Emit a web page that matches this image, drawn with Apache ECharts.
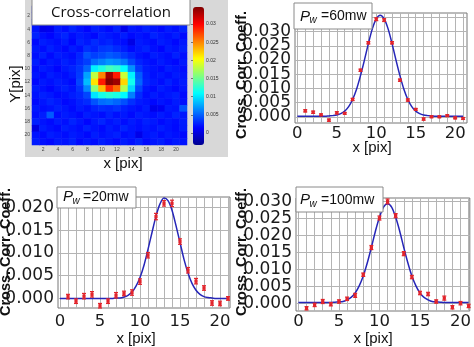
<!DOCTYPE html>
<html><head><meta charset="utf-8">
<script src="https://cdn.jsdelivr.net/npm/echarts@6/dist/echarts.min.js"></script>
<style>html,body{margin:0;padding:0;background:#fff}#c{width:474px;height:347px}</style>
</head><body><div id="c"></div>
<script>
// ---------- data ----------
const heatX = ['1','2','3','4','5','6','7','8','9','10','11','12','13','14','15','16','17','18','19','20','21'];
const heatY = ['1','2','3','4','5','6','7','8','9','10','11','12','13','14','15','16','17','18','19','20','21'];
const heatValues = [
 [0.0020,0.0025,0.0018,0.0030,0.0022,0.0015,0.0028,0.0020,0.0025,0.0019,0.0027,0.0021,0.0016,0.0024,0.0029,0.0020,0.0018,0.0026,0.0022,0.0019,0.0024],
 [0.0024,0.0018,0.0027,0.0021,0.0016,0.0029,0.0022,0.0025,0.0019,0.0026,0.0020,0.0023,0.0028,0.0017,0.0022,0.0027,0.0021,0.0019,0.0025,0.0023,0.0018],
 [0.0019,0.0028,0.0021,0.0015,0.0026,0.0022,0.0018,0.0027,0.0023,0.0020,0.0025,0.0016,0.0022,0.0029,0.0019,0.0024,0.0020,0.0027,0.0017,0.0024,0.0021],
 [0.0022,0.0005,0.0008,0.0024,0.0019,0.0027,0.0021,0.0016,0.0025,0.0022,0.0018,0.0026,0.0006,0.0023,0.0020,0.0026,0.0022,0.0018,0.0024,0.0020,0.0027],
 [0.0027,0.0020,0.0016,0.0023,0.0028,0.0019,0.0024,0.0021,0.0017,0.0026,0.0023,0.0020,0.0025,0.0018,0.0022,0.0019,0.0027,0.0023,0.0020,0.0025,0.0018],
 [0.0018,0.0025,0.0022,0.0019,0.0024,0.0016,0.0027,0.0023,0.0030,0.0025,0.0028,0.0022,0.0019,0.0004,0.0024,0.0021,0.0018,0.0025,0.0022,0.0017,0.0023],
 [0.0023,0.0019,0.0026,0.0021,0.0017,0.0024,0.0020,0.0032,0.0027,0.0034,0.0036,0.0030,0.0025,0.0018,0.0023,0.0027,0.0020,0.0016,0.0024,0.0021,0.0026],
 [0.0020,0.0026,0.0018,0.0025,0.0022,0.0019,0.0028,0.0045,0.0038,0.0042,0.0048,0.0044,0.0036,0.0029,0.0021,0.0018,0.0025,0.0022,0.0019,0.0026,0.0020],
 [0.0025,0.0017,0.0023,0.0020,0.0026,0.0022,0.0030,0.0037,0.0055,0.0062,0.0070,0.0066,0.0058,0.0040,0.0027,0.0022,0.0019,0.0024,0.0020,0.0017,0.0023],
 [0.0019,0.0024,0.0021,0.0016,0.0023,0.0027,0.0034,0.0052,0.0105,0.0120,0.0135,0.0128,0.0110,0.0068,0.0035,0.0024,0.0021,0.0018,0.0025,0.0022,0.0019],
 [0.0022,0.0018,0.0025,0.0021,0.0019,0.0024,0.0036,0.0075,0.0180,0.0250,0.0335,0.0290,0.0185,0.0105,0.0048,0.0026,0.0020,0.0023,0.0019,0.0024,0.0021],
 [0.0017,0.0023,0.0020,0.0025,0.0022,0.0018,0.0040,0.0085,0.0215,0.0290,0.0345,0.0335,0.0220,0.0115,0.0052,0.0028,0.0023,0.0019,0.0026,0.0020,0.0024],
 [0.0024,0.0020,0.0016,0.0022,0.0026,0.0021,0.0033,0.0065,0.0160,0.0230,0.0285,0.0260,0.0175,0.0095,0.0040,0.0022,0.0018,0.0025,0.0021,0.0017,0.0022],
 [0.0021,0.0026,0.0023,0.0018,0.0020,0.0025,0.0029,0.0040,0.0100,0.0118,0.0125,0.0120,0.0108,0.0062,0.0030,0.0019,0.0024,0.0020,0.0023,0.0026,0.0018],
 [0.0018,0.0022,0.0027,0.0023,0.0017,0.0020,0.0026,0.0030,0.0045,0.0055,0.0058,0.0052,0.0044,0.0032,0.0024,0.0021,0.0017,0.0022,0.0019,0.0024,0.0020],
 [0.0023,0.0019,0.0021,0.0026,0.0022,0.0018,0.0024,0.0020,0.0027,0.0031,0.0029,0.0033,0.0026,0.0022,0.0019,0.0024,0.0006,0.0010,0.0023,0.0021,0.0045],
 [0.0020,0.0025,0.0048,0.0019,0.0024,0.0021,0.0017,0.0025,0.0022,0.0019,0.0026,0.0020,0.0023,0.0018,0.0025,0.0022,0.0019,0.0024,0.0020,0.0027,0.0023],
 [0.0026,0.0021,0.0018,0.0024,0.0020,0.0027,0.0022,0.0016,0.0023,0.0028,0.0021,0.0025,0.0019,0.0024,0.0020,0.0026,0.0023,0.0018,0.0022,0.0019,0.0025],
 [0.0002,0.0024,0.0020,0.0017,0.0025,0.0022,0.0019,0.0026,0.0021,0.0018,0.0024,0.0020,0.0027,0.0022,0.0019,0.0023,0.0020,0.0025,0.0021,0.0018,0.0024],
 [0.0021,0.0018,0.0025,0.0022,0.0019,0.0024,0.0021,0.0017,0.0025,0.0020,0.0023,0.0026,0.0019,0.0022,0.0006,0.0021,0.0024,0.0019,0.0023,0.0020,0.0017],
 [0.0024,0.0020,0.0017,0.0023,0.0021,0.0026,0.0018,0.0022,0.0019,0.0025,0.0021,0.0017,0.0024,0.0020,0.0026,0.0018,0.0022,0.0025,0.0019,0.0023,0.0021]
];
const colorbarTicks = [0, 0.005, 0.01, 0.015, 0.02, 0.025, 0.03];

const pixTicks = [0,1,2,3,4,5,6,7,8,9,10,11,12,13,14,15,16,17,18,19,20,21];
const pixLabels = [0,5,10,15,20];
const coeffTicks = [0,0.005,0.01,0.015,0.02,0.025,0.03,0.035];
const coeffLabels60a = [0,0.01,0.02,0.03];
const coeffLabels60b = [0.005,0.015,0.025];
const coeffLabels20 = [0,0.005,0.01,0.015,0.02];
const coeffLabels100 = [0,0.005,0.01,0.015,0.02,0.025,0.03];

const pointX = [1,2,3,4,5,6,7,8,9,10,11,12,13,14,15,16,17,18,19,20,21];
const pts60  = [0.0021,0.0016,0.0007,-0.0012,0.0014,0.0012,0.0061,0.0164,0.0261,0.0344,0.0341,0.0261,0.0129,0.0059,0.0026,-0.0008,0.0000,0.0000,0.0004,-0.0004,-0.0006];
const err60  = [0.0004,0.0004,0.0003,0.0004,0.0004,0.0003,0.0004,0.0004,0.0004,0.0005,0.0005,0.0004,0.0004,0.0004,0.0003,0.0004,0.0003,0.0003,0.0003,0.0003,0.0003];
const pts20  = [0.0004,-0.0006,0.0005,0.0009,-0.0016,-0.0006,0.0007,0.0011,0.0013,0.0037,0.0095,0.0180,0.0209,0.0209,0.0125,0.0062,0.0038,0.0023,-0.0010,-0.0011,0.0000];
const err20  = [0.0005,0.0005,0.0006,0.0006,0.0005,0.0005,0.0006,0.0005,0.0006,0.0006,0.0006,0.0007,0.0006,0.0007,0.0006,0.0006,0.0006,0.0005,0.0005,0.0005,0.0004];
const pts100 = [-0.0015,-0.0005,0.0005,-0.0003,0.0005,0.0013,0.0023,0.0084,0.0164,0.0251,0.0300,0.0258,0.0146,0.0077,0.0030,0.0027,0.0005,0.0015,-0.0012,0.0000,-0.0008];
const err100 = [0.0005,0.0005,0.0006,0.0005,0.0005,0.0005,0.0006,0.0005,0.0006,0.0006,0.0007,0.0006,0.0006,0.0005,0.0005,0.0005,0.0005,0.0006,0.0005,0.0005,0.0005];

const fitX = [0,0.5,1,1.5,2,2.5,3,3.5,4,4.5,5,5.5,6,6.5,7,7.5,8,8.5,9,9.5,10,10.5,11,11.5,12,12.5,13,13.5,14,14.5,15,15.5,16,16.5,17,17.5,18,18.5,19,19.5,20,20.5,21];
const fit60 = [0.0002,0.0002,0.0002,0.0002,0.0002,0.0002,0.0002,0.0002,0.0003,0.0004,0.0006,0.0011,0.0020,0.0036,0.0061,0.0097,0.0145,0.0200,0.0258,0.0310,0.0345,0.0358,0.0345,0.0310,0.0258,0.0200,0.0145,0.0097,0.0061,0.0036,0.0020,0.0011,0.0006,0.0004,0.0003,0.0002,0.0002,0.0002,0.0002,0.0002,0.0002,0.0002,0.0002];
const fit20 = [0,0,0,0,0,0,0,0,0,0,0,0,0,0,0.0001,0.0001,0.0003,0.0007,0.0014,0.0027,0.0046,0.0073,0.0108,0.0145,0.0181,0.0208,0.0221,0.0215,0.0194,0.0160,0.0123,0.0086,0.0056,0.0033,0.0018,0.0009,0.0004,0.0002,0.0001,0,0,0,0];
const fit100 = [0.0002,0.0002,0.0002,0.0002,0.0002,0.0002,0.0002,0.0002,0.0002,0.0003,0.0004,0.0005,0.0010,0.0017,0.0030,0.0051,0.0080,0.0119,0.0164,0.0212,0.0253,0.0283,0.0293,0.0283,0.0253,0.0212,0.0164,0.0119,0.0080,0.0051,0.0030,0.0017,0.0010,0.0005,0.0004,0.0003,0.0002,0.0002,0.0002,0.0002,0.0002,0.0002,0.0002];

// ---------- build ----------
const heatData = [];
heatValues.forEach((row, j) => row.forEach((v, i) => heatData.push([i, j, v])));
const zip3 = (a, b, c) => a.map((v, i) => [v, b[i], c[i]]);
const zip2 = (a, b) => a.map((v, i) => [v, b[i]]);

const RED = '#e2242b', BLUE = '#2626b8';
function errRender(params, api) {
  const x = api.value(0), y = api.value(1), e = api.value(2);
  const c = api.coord([x, y]);
  const t = api.coord([x, y + e]);
  const b = api.coord([x, y - e]);
  return {type: 'group', children: [
    {type: 'line', shape: {x1: c[0], y1: t[1], x2: c[0], y2: b[1]}, style: {stroke: RED, lineWidth: 1.5}},
    {type: 'line', shape: {x1: c[0] - 2, y1: t[1], x2: c[0] + 2, y2: t[1]}, style: {stroke: RED, lineWidth: 1.2}},
    {type: 'line', shape: {x1: c[0] - 2, y1: b[1], x2: c[0] + 2, y2: b[1]}, style: {stroke: RED, lineWidth: 1.2}},
    {type: 'rect', shape: {x: c[0] - 1.6, y: c[1] - 1.6, width: 3.2, height: 3.2}, style: {fill: RED}}
  ]};
}

const numFont = 'DejaVu Sans';
function panelX(gi, min, max, margin) {
  return {gridIndex: gi, type: 'value', min: min, max: max,
    axisLine: {show: false},
    axisTick: {show: false, customValues: pixTicks},
    axisLabel: {customValues: pixLabels, fontFamily: numFont, fontSize: 16.5, color: '#1a1a1a', margin: margin,
      showMinLabel: true, showMaxLabel: true},
    splitLine: {show: true, lineStyle: {color: '#b4b4b4', width: 1}}};
}
function panelY(gi, min, max, labels, withLines) {
  return {gridIndex: gi, type: 'value', min: min, max: max, position: 'left', offset: 0,
    axisLine: {show: false},
    axisTick: {show: false, customValues: coeffTicks.filter(v => v <= max)},
    axisLabel: {customValues: labels, fontFamily: numFont, fontSize: 17, color: '#1a1a1a', margin: 4,
      showMinLabel: true, showMaxLabel: true, hideOverlap: false,
      formatter: v => v.toFixed(3)},
    splitLine: {show: withLines, lineStyle: {color: '#b4b4b4', width: 1}}};
}
const gridStyle = {show: true, borderColor: '#777', borderWidth: 1, backgroundColor: 'transparent'};

const jet = ['#00008f','#0000ff','#0080ff','#00ffff','#80ff80','#ffff00','#ff8000','#ff0000','#800000'];

function legend(x, y, w, h, cy, px, wx, tx, txt) {
  return [
    {type: 'rect', z: 20, shape: {x: x, y: y, width: w, height: h}, style: {fill: '#fff', stroke: '#8a8a8a', lineWidth: 1}},
    {type: 'text', z: 21, x: px, y: cy, style: {text: 'P', font: 'italic 15px "Liberation Sans"', fill: '#111', textAlign: 'left', textVerticalAlign: 'middle', align: 'left', verticalAlign: 'middle'}},
    {type: 'text', z: 21, x: wx, y: cy + 4, style: {text: 'w', font: 'italic 10px "Liberation Sans"', fill: '#111', textAlign: 'left', textVerticalAlign: 'middle', align: 'left', verticalAlign: 'middle'}},
    {type: 'text', z: 21, x: tx, y: cy, style: {text: txt, font: '14px "Liberation Sans"', fill: '#111', textAlign: 'left', textVerticalAlign: 'middle', align: 'left', verticalAlign: 'middle'}}
  ];
}
function txt(x, y, s, font, rot) {
  return {type: 'text', z: 21, x: x, y: y, rotation: rot || 0,
    style: {text: s, font: font, fill: '#111', textAlign: 'center', textVerticalAlign: 'middle', align: 'center', verticalAlign: 'middle'}};
}
const titleFont = 'bold 14.5px "Liberation Sans"';
const xFont = '15px "Liberation Sans"';

const chart = echarts.init(document.getElementById('c'), null, {renderer: 'canvas'});
chart.setOption({
  animation: false,
  backgroundColor: '#fff',
  grid: [
    {left: 32, top: 6, width: 155, height: 139},
    {left: 193, top: 7, width: 11, height: 138},
    Object.assign({left: 295, top: 13, width: 172, height: 110}, gridStyle),
    Object.assign({left: 58, top: 197, width: 172, height: 111}, gridStyle),
    Object.assign({left: 296, top: 198, width: 174, height: 113}, gridStyle)
  ],
  xAxis: [
    {gridIndex: 0, type: 'category', data: heatX, axisLine: {show: false}, axisTick: {show: false},
      axisLabel: {interval: 0, fontSize: 5, color: '#444', margin: 2, formatter: v => (+v % 2 === 0 ? v : '')}, splitLine: {show: false}},
    {gridIndex: 1, type: 'value', show: false, min: 0, max: 1},
    panelX(2, -0.3, 21.5, 2),
    panelX(3, -0.25, 21.25, 5),
    panelX(4, -0.3, 21.15, 2)
  ],
  yAxis: [
    {gridIndex: 0, type: 'category', data: heatY, inverse: true, axisLine: {show: false}, axisTick: {show: false},
      axisLabel: {interval: 0, fontSize: 5, color: '#444', margin: 2, formatter: v => (+v % 2 === 0 ? v : '')}, splitLine: {show: false}},
    {gridIndex: 1, type: 'value', min: -0.0033, max: 0.0347, position: 'right',
      axisLine: {show: false},
      axisTick: {show: true, inside: true, length: 2, customValues: colorbarTicks, lineStyle: {color: '#333', width: 0.6}},
      axisLabel: {customValues: colorbarTicks, fontSize: 5, color: '#333', margin: 2, showMinLabel: true, showMaxLabel: true},
      splitLine: {show: false}},
    panelY(2, -0.0022, 0.0366, coeffLabels60a, true),
    panelY(3, -0.0021, 0.0223, coeffLabels20, true),
    panelY(4, -0.0023, 0.031, coeffLabels100, true),
    panelY(2, -0.0022, 0.0366, coeffLabels60b, false)
  ],
  visualMap: {type: 'continuous', seriesIndex: 0, min: -0.0033, max: 0.0347, calculable: false, hoverLink: false,
    orient: 'vertical', left: 193, top: 7, itemWidth: 11, itemHeight: 138, padding: 0, text: null,
    inRange: {color: jet}},
  series: [
    {type: 'heatmap', xAxisIndex: 0, yAxisIndex: 0, data: heatData, itemStyle: {borderWidth: 0}, z: 2},
    {type: 'line', xAxisIndex: 2, yAxisIndex: 2, data: zip2(fitX, fit60), smooth: 0.3, showSymbol: false, lineStyle: {color: BLUE, width: 1.5}, z: 3},
    {type: 'custom', xAxisIndex: 2, yAxisIndex: 2, data: zip3(pointX, pts60, err60), renderItem: errRender, z: 4},
    {type: 'line', xAxisIndex: 3, yAxisIndex: 3, data: zip2(fitX, fit20), smooth: 0.3, showSymbol: false, lineStyle: {color: BLUE, width: 1.5}, z: 3},
    {type: 'custom', xAxisIndex: 3, yAxisIndex: 3, data: zip3(pointX, pts20, err20), renderItem: errRender, z: 4},
    {type: 'line', xAxisIndex: 4, yAxisIndex: 4, data: zip2(fitX, fit100), smooth: 0.3, showSymbol: false, lineStyle: {color: BLUE, width: 1.5}, z: 3},
    {type: 'custom', xAxisIndex: 4, yAxisIndex: 4, data: zip3(pointX, pts100, err100), renderItem: errRender, z: 4}
  ],
  graphic: [].concat(
    [{type: 'rect', z: -10, shape: {x: 25, y: 0, width: 203, height: 157}, style: {fill: '#d8d8d8'}},
     {type: 'rect', z: 20, shape: {x: 32, y: -1, width: 158, height: 26}, style: {fill: '#fff', stroke: '#8a8a8a', lineWidth: 1}},
     txt(111, 13, 'Cross-correlation', '15px "Open Sans"'),
     txt(16, 84, 'Y[pix]', '15px "Liberation Sans"', Math.PI / 2),
     txt(123, 164, 'x [pix]', xFont),
     txt(242, 75, 'Cross. Corr. Coeff.', titleFont, Math.PI / 2),
     txt(6, 252, 'Cross. Corr. Coeff.', titleFont, Math.PI / 2),
     txt(242, 252, 'Cross. Corr. Coeff.', titleFont, Math.PI / 2),
     txt(372, 148, 'x [pix]', xFont),
     txt(136, 339, 'x [pix]', xFont),
     txt(373, 339, 'x [pix]', xFont)],
    legend(294, 3, 78, 26, 16.5, 300, 309.5, 321, '=60mw'),
    legend(57, 187, 79, 21, 197, 63, 72.5, 83, '=20mw'),
    legend(296, 187, 87, 25, 200, 300, 309.5, 321, '=100mw')
  )
});
</script>
</body></html>
